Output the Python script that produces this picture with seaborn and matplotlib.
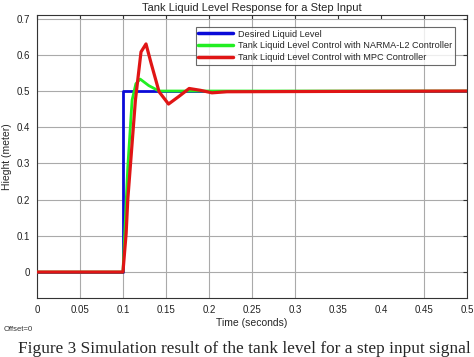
import numpy as np
import pandas as pd
import seaborn as sns
import matplotlib.pyplot as plt

# values
t_desired = [0, 0.1, 0.1, 0.5]
h_desired = [0, 0, 0.5, 0.5]

t_narma = [0, 0.1, 0.1006, 0.1056, 0.1106, 0.115, 0.120, 0.13, 0.142, 0.5]
h_narma = [0, 0, 0.033, 0.29, 0.475, 0.52, 0.533, 0.515, 0.5, 0.5]

t_mpc = [0, 0.1, 0.1037, 0.1056, 0.1145, 0.121, 0.1268, 0.1326, 0.142, 0.153,
         0.165, 0.177, 0.19, 0.2035, 0.221, 0.5]
h_mpc = [0, 0, 0.107, 0.2, 0.475, 0.608, 0.63, 0.578, 0.498, 0.464,
         0.485, 0.507, 0.502, 0.495, 0.498, 0.5]

names = ["Desired Liquid Level",
         "Tank Liquid Level Control with NARMA-L2 Controller",
         "Tank Liquid Level Control with MPC Controller"]
colors = ["#0a0ad8", "#22ee22", "#e01515"]

x_ticks = [0, 0.05, 0.1, 0.15, 0.2, 0.25, 0.3, 0.35, 0.4, 0.45, 0.5]
x_labels = ["0", "0.05", "0.1", "0.15", "0.2", "0.25", "0.3", "0.35", "0.4", "0.45", "0.5"]
y_ticks = [0, 0.1, 0.2, 0.3, 0.4, 0.5, 0.6, 0.7]
y_labels = ["0", "0.1", "0.2", "0.3", "0.4", "0.5", "0.6", "0.7"]

sns.set_style("white")
plt.rcParams['font.family'] = ['Liberation Sans', 'DejaVu Sans']

fig = plt.figure(figsize=(4.74, 3.57), dpi=100)
ax = fig.add_axes([0.078, 0.165, 0.907, 0.793])

series = [(t_desired, h_desired), (t_narma, h_narma), (t_mpc, h_mpc)]
widths = [2.0, 2.0, 2.3]
for i, (t, h) in enumerate(series):
    df = pd.DataFrame({"t": t, "h": h})
    sns.lineplot(data=df, x="t", y="h", sort=False, estimator=None,
                 color=colors[i], lw=widths[i], label=names[i], ax=ax, zorder=3 + i)

ax.set_xlim(0, 0.5)
ax.set_ylim(-0.072, 0.71)
ax.set_xticks(x_ticks)
ax.set_xticklabels(x_labels, fontsize=7, color="#222222")
ax.set_yticks(y_ticks)
ax.set_yticklabels(y_labels, fontsize=7, color="#222222")
ax.tick_params(direction="in", length=3, top=True, right=True, pad=5, color="#333333")
ax.grid(True, color="#aaaaaa", lw=0.8)
# the reference has no gridlines at 0.35 and 0.4
for k in (7, 8):
    ax.get_xgridlines()[k].set_visible(False)
for s in ax.spines.values():
    s.set_color("#333333")
    s.set_linewidth(0.8)

ax.set_xlabel("Time (seconds)", fontsize=7.5, labelpad=2)
ax.set_ylabel("Hieght (meter)", fontsize=7.5, labelpad=3)
ax.set_title("Tank Liquid Level Response for a Step Input", fontsize=8, pad=3)

leg = ax.legend(loc="upper right", bbox_to_anchor=(0.972, 0.958), borderaxespad=0,
                fontsize=6.6, frameon=True, fancybox=False, handlelength=3.8,
                labelspacing=0.3, borderpad=0.3, handletextpad=0.5)
leg.get_frame().set_edgecolor("#444444")
leg.get_frame().set_linewidth(0.8)
for line in leg.get_lines():
    line.set_linewidth(2.5)

fig.text(0.008, 0.072, "Offset=0", fontsize=5.5, color="#333333")
fig.text(0.515, 0.0, "Figure 3 Simulation result of the tank level for a step input signal",
         fontsize=12.4, family="Liberation Serif", ha="center", va="bottom")

plt.savefig("out.png", dpi=100)
